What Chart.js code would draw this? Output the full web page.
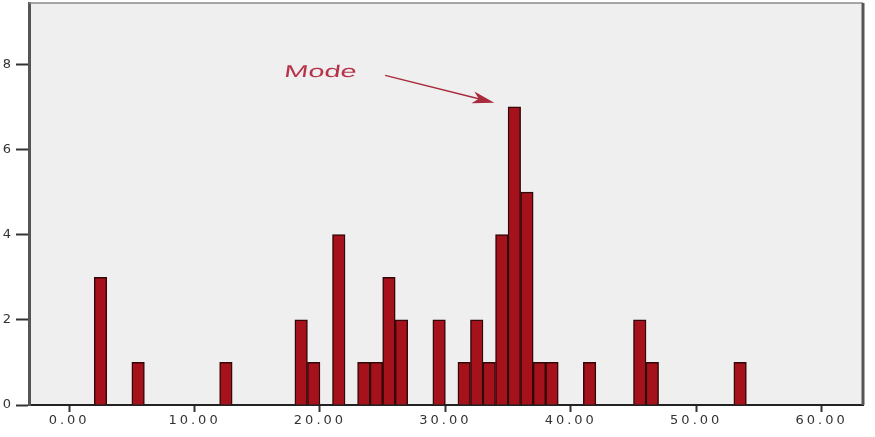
<!DOCTYPE html>
<html lang="en">
<head>
    <meta charset="UTF-8">
    <title>Histogram - Mode</title>
    <style>
        html, body { margin: 0; padding: 0; background: #ffffff; }
        .chart-box { width: 875px; height: 437px; }
    </style>
</head>
<body>
    <div class="chart-box"><canvas id="hist"></canvas></div>

    <script src="https://cdn.jsdelivr.net/npm/chart.js"></script>
    <script>
        // bins are 1 unit wide, start value of each bin + its count
        const binStarts = [2, 5, 12, 18, 19, 21, 23, 24, 25, 26, 29, 31, 32, 33, 34, 35, 36, 37, 38, 41, 45, 46, 53];
        const counts    = [3, 1, 1, 2, 1, 4, 1, 1, 3, 2, 2, 1, 2, 1, 4, 7, 5, 1, 1, 1, 2, 1, 1];
        const xTickValues = [0, 10, 20, 30, 40, 50, 60];
        const yTickValues = [0, 2, 4, 6, 8];
        const modeLabel = 'Mode';

        // annotation spots in data units
        const modeText = { x: 17.1, y: 7.7 };
        const arrowFrom = { x: 25.2, y: 7.74 };
        const arrowTo = { x: 33.9, y: 7.1 };

        const TICK_SPACING = '3px';

        const framePlugin = {
            id: 'frame',
            beforeUpdate(chart) {
                chart.ctx.letterSpacing = TICK_SPACING;
            },
            beforeDraw(chart) {
                const { ctx, chartArea: a } = chart;
                ctx.save();
                ctx.fillStyle = '#efefef';
                ctx.fillRect(a.left, a.top, a.right - a.left, a.bottom - a.top);
                ctx.restore();
                ctx.letterSpacing = TICK_SPACING;
            },
            afterDraw(chart) {
                const { ctx, chartArea: a, scales: { x, y } } = chart;
                ctx.save();
                ctx.letterSpacing = '0px';

                // top + right frame
                ctx.strokeStyle = '#8a8a8a';
                ctx.lineWidth = 1.5;
                ctx.beginPath();
                ctx.moveTo(a.left, a.top);
                ctx.lineTo(a.right, a.top);
                ctx.stroke();
                ctx.strokeStyle = '#555555';
                ctx.lineWidth = 3;
                ctx.beginPath();
                ctx.moveTo(a.right, a.top);
                ctx.lineTo(a.right, a.bottom);
                ctx.stroke();

                // "Mode" label
                const tx = x.getPixelForValue(modeText.x);
                const ty = y.getPixelForValue(modeText.y);
                ctx.translate(tx, ty);
                ctx.transform(1.7, 0, -0.15, 1, 0, 0);
                ctx.fillStyle = '#b8324a';
                ctx.font = '17px "Liberation Sans"';
                ctx.textBaseline = 'alphabetic';
                ctx.fillText(modeLabel, 0, 0);
                ctx.setTransform(1, 0, 0, 1, 0, 0);

                // arrow
                const x1 = x.getPixelForValue(arrowFrom.x), y1 = y.getPixelForValue(arrowFrom.y);
                const x2 = x.getPixelForValue(arrowTo.x), y2 = y.getPixelForValue(arrowTo.y);
                const ang = Math.atan2(y2 - y1, x2 - x1);
                const c = Math.cos(ang), s = Math.sin(ang);
                ctx.strokeStyle = '#a82a3c';
                ctx.fillStyle = '#a82a3c';
                ctx.lineWidth = 1.5;
                ctx.beginPath();
                ctx.moveTo(x1, y1);
                ctx.lineTo(x2 - 12 * c, y2 - 12 * s);
                ctx.stroke();
                ctx.beginPath();
                ctx.moveTo(x2, y2);
                ctx.lineTo(x2 - 22 * c + 6 * s, y2 - 22 * s - 6 * c);
                ctx.lineTo(x2 - 16 * c, y2 - 16 * s);
                ctx.lineTo(x2 - 22 * c - 6 * s, y2 - 22 * s + 6 * c);
                ctx.closePath();
                ctx.fill();

                ctx.restore();
                ctx.letterSpacing = TICK_SPACING;
            }
        };

        const tickFont = { family: 'DejaVu Sans', size: 13 };

        const ctx = document.getElementById('hist').getContext('2d');
        const chart = new Chart(ctx, {
            type: 'bar',
            data: {
                datasets: [{
                    label: 'Frequency',
                    data: binStarts.map((b, i) => ({ x: b + 0.5, y: counts[i] })),
                    backgroundColor: '#a5121b',
                    borderColor: '#330808',
                    borderWidth: 1.5,
                    barPercentage: 1,
                    categoryPercentage: 1
                }]
            },
            options: {
                responsive: true,
                maintainAspectRatio: false,
                animation: false,
                layout: {
                    padding: { top: 3, right: 12, left: 0, bottom: 0 }
                },
                scales: {
                    x: {
                        type: 'linear',
                        min: -3.2,
                        max: 63.3,
                        offset: false,
                        afterBuildTicks: s => { s.ticks = xTickValues.map(v => ({ value: v })); },
                        afterFit: s => { s.height = 32; s.paddingLeft = 0; s.paddingRight = 0; },
                        grid: {
                            offset: false,
                            drawOnChartArea: false,
                            tickLength: 7,
                            tickWidth: 2,
                            tickColor: '#333333'
                        },
                        border: { color: '#222222', width: 2 },
                        ticks: {
                            callback: v => v.toFixed(2),
                            font: tickFont,
                            color: '#333333',
                            padding: 1,
                            maxRotation: 0,
                            autoSkip: false
                        }
                    },
                    y: {
                        min: 0,
                        max: 9.44,
                        afterBuildTicks: s => { s.ticks = yTickValues.map(v => ({ value: v })); },
                        afterFit: s => { s.width = 29; s.paddingTop = 0; s.paddingBottom = 0; },
                        grid: {
                            drawOnChartArea: false,
                            tickLength: 13,
                            tickWidth: 2,
                            tickColor: '#333333'
                        },
                        border: { color: '#555555', width: 3 },
                        ticks: {
                            font: tickFont,
                            color: '#333333',
                            padding: 2
                        }
                    }
                },
                plugins: {
                    legend: { display: false },
                    tooltip: { enabled: false }
                }
            },
            plugins: [framePlugin]
        });
    </script>
</body>
</html>
